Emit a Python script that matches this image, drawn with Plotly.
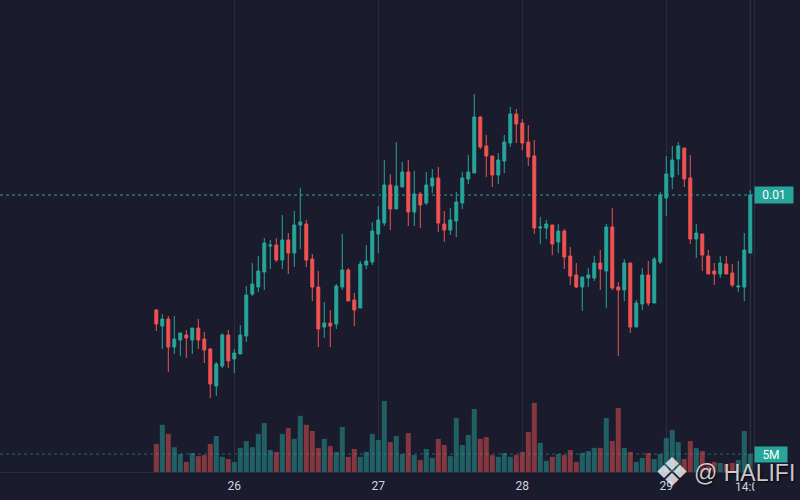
import pandas as pd
import plotly.graph_objects as go

# hourly candles, 25th 11:00 -> 29th 14:00
times = pd.date_range("2024-03-25 11:00", periods=100, freq="h")

open_ = [0.00885, 0.00869, 0.00876, 0.00848, 0.00855, 0.00860, 0.00855, 0.00867, 0.00856, 0.00846,
         0.00809, 0.00829, 0.00860, 0.00836, 0.00841, 0.00859, 0.00901, 0.00908, 0.00923, 0.00949,
         0.00950, 0.00935, 0.00955, 0.00942, 0.00970, 0.00971, 0.00936, 0.00908, 0.00868, 0.00872,
         0.00871, 0.00908, 0.00925, 0.00895, 0.00887, 0.00930, 0.00933, 0.00961, 0.00972, 0.01010,
         0.00986, 0.01008, 0.01023, 0.00983, 0.01001, 0.00992, 0.01009, 0.01017, 0.00971, 0.00965,
         0.00974, 0.00992, 0.01016, 0.01022, 0.01078, 0.01049, 0.01039, 0.01020, 0.01034, 0.01052,
         0.01081, 0.01072, 0.01053, 0.01039, 0.00967, 0.00967, 0.00970, 0.00953, 0.00964, 0.00939,
         0.00920, 0.00908, 0.00917, 0.00917, 0.00932, 0.00924, 0.00968, 0.00908, 0.00905, 0.00932,
         0.00868, 0.00891, 0.00920, 0.00892, 0.00933, 0.00997, 0.01018, 0.01036, 0.01047, 0.01017,
         0.00956, 0.00961, 0.00939, 0.00924, 0.00921, 0.00931, 0.00922, 0.00908, 0.00908, 0.00942]

high = [0.00886, 0.00881, 0.00879, 0.00879, 0.00862, 0.00865, 0.00867, 0.00876, 0.00863, 0.00847,
        0.00833, 0.00862, 0.00865, 0.00846, 0.00870, 0.00909, 0.00932, 0.00939, 0.00957, 0.00955,
        0.00957, 0.00980, 0.00962, 0.00984, 0.01007, 0.00975, 0.00941, 0.00924, 0.00893, 0.00885,
        0.00911, 0.00961, 0.00927, 0.00902, 0.00934, 0.00950, 0.00973, 0.00989, 0.01035, 0.01021,
        0.01053, 0.01033, 0.01035, 0.01024, 0.01003, 0.01023, 0.01026, 0.01028, 0.00984, 0.00987,
        0.01003, 0.01023, 0.01040, 0.01101, 0.01079, 0.01060, 0.01039, 0.01042, 0.01060, 0.01088,
        0.01086, 0.01076, 0.01070, 0.01055, 0.00978, 0.00975, 0.00970, 0.00971, 0.00966, 0.00948,
        0.00932, 0.00918, 0.00927, 0.00939, 0.00945, 0.00971, 0.00987, 0.00913, 0.00936, 0.00932,
        0.00895, 0.00927, 0.00934, 0.00938, 0.01003, 0.01039, 0.01049, 0.01053, 0.01047, 0.01040,
        0.00971, 0.00961, 0.00945, 0.00932, 0.00939, 0.00939, 0.00931, 0.00934, 0.00962, 0.01005]

low = [0.00864, 0.00846, 0.00823, 0.00841, 0.00839, 0.00837, 0.00841, 0.00846, 0.00832, 0.00797,
       0.00799, 0.00827, 0.00827, 0.00822, 0.00841, 0.00853, 0.00899, 0.00903, 0.00905, 0.00926,
       0.00933, 0.00926, 0.00921, 0.00928, 0.00946, 0.00928, 0.00894, 0.00848, 0.00857, 0.00848,
       0.00866, 0.00905, 0.00894, 0.00869, 0.00887, 0.00926, 0.00930, 0.00942, 0.00969, 0.00965,
       0.00986, 0.01008, 0.00969, 0.00969, 0.00967, 0.00990, 0.01002, 0.00963, 0.00953, 0.00960,
       0.00958, 0.00986, 0.01011, 0.01022, 0.01046, 0.01018, 0.01008, 0.01011, 0.01022, 0.01048,
       0.01052, 0.01045, 0.01029, 0.00961, 0.00951, 0.00956, 0.00940, 0.00942, 0.00926, 0.00910,
       0.00907, 0.00884, 0.00908, 0.00914, 0.00905, 0.00887, 0.00905, 0.00839, 0.00894, 0.00862,
       0.00868, 0.00885, 0.00889, 0.00892, 0.00931, 0.00979, 0.01006, 0.01020, 0.01008, 0.00951,
       0.00937, 0.00924, 0.00921, 0.00910, 0.00917, 0.00921, 0.00908, 0.00903, 0.00894, 0.00942]

close = [0.00871, 0.00876, 0.00848, 0.00856, 0.00862, 0.00857, 0.00867, 0.00855, 0.00845, 0.00811,
         0.00831, 0.00860, 0.00834, 0.00842, 0.00860, 0.00900, 0.00911, 0.00924, 0.00952, 0.00950,
         0.00935, 0.00955, 0.00942, 0.00970, 0.00973, 0.00935, 0.00908, 0.00866, 0.00872, 0.00869,
         0.00909, 0.00925, 0.00894, 0.00885, 0.00931, 0.00934, 0.00964, 0.00975, 0.01010, 0.00986,
         0.01009, 0.01023, 0.00983, 0.01001, 0.00990, 0.01010, 0.01017, 0.00972, 0.00965, 0.00975,
         0.00993, 0.01017, 0.01023, 0.01078, 0.01048, 0.01039, 0.01020, 0.01035, 0.01053, 0.01081,
         0.01071, 0.01052, 0.01038, 0.00967, 0.00968, 0.00971, 0.00951, 0.00964, 0.00938, 0.00919,
         0.00908, 0.00918, 0.00920, 0.00932, 0.00926, 0.00968, 0.00907, 0.00905, 0.00932, 0.00868,
         0.00892, 0.00920, 0.00892, 0.00936, 0.01000, 0.01021, 0.01035, 0.01049, 0.01016, 0.00956,
         0.00962, 0.00940, 0.00921, 0.00921, 0.00932, 0.00921, 0.00910, 0.00909, 0.00945, 0.01000]

# volume in millions
volume = [7.8, 13.1, 10.6, 6.9, 5.0, 2.8, 5.3, 4.4, 4.7, 7.8,
          10.0, 4.2, 3.6, 2.8, 6.7, 8.6, 6.9, 10.6, 13.6, 6.1,
          5.6, 10.6, 12.2, 9.2, 15.6, 13.1, 11.4, 6.7, 9.2, 7.2,
          5.6, 12.5, 4.2, 6.4, 4.2, 5.6, 10.6, 8.9, 19.7, 8.3,
          10.0, 5.0, 10.8, 4.7, 3.3, 6.4, 3.9, 9.2, 7.5, 4.4,
          15.0, 7.5, 10.3, 17.5, 9.2, 9.7, 4.7, 4.2, 5.3, 4.2,
          4.7, 5.6, 11.1, 19.2, 8.1, 3.1, 4.2, 5.0, 4.7, 6.1,
          2.8, 5.3, 5.8, 6.7, 6.7, 15.0, 8.6, 17.8, 6.7, 5.6,
          2.8, 3.9, 5.3, 3.6, 5.0, 9.4, 11.7, 8.3, 3.6, 8.6,
          6.7, 5.8, 2.5, 2.8, 2.5, 2.2, 2.5, 3.3, 11.4, 5.0]

day_ticks = ["2024-03-26", "2024-03-27", "2024-03-28", "2024-03-29"]
day_labels = ["26", "27", "28", "29"]

bg = "#1b1b2e"
up = "#26a69a"
down = "#ef5350"
grid = "#2a2b3d"

df = pd.DataFrame({"time": times, "open": open_, "high": high, "low": low,
                   "close": close, "volume": volume})
vol_colors = ["rgba(38,166,154,0.5)" if c >= o else "rgba(239,83,80,0.5)"
              for o, c in zip(df.open, df.close)]

fig = go.Figure()
fig.add_trace(go.Bar(x=df.time, y=df.volume, yaxis="y2", marker_color=vol_colors,
                     marker_line_width=0, width=50 * 60 * 1000, hoverinfo="skip"))
fig.add_trace(go.Candlestick(x=df.time, open=df.open, high=df.high, low=df.low, close=df.close,
                             increasing=dict(line=dict(color=up, width=1), fillcolor=up),
                             decreasing=dict(line=dict(color=down, width=1), fillcolor=down),
                             whiskerwidth=0))

last_t = df.time.iloc[-1]
last_close = df.close.iloc[-1]
last_vol = df.volume.iloc[-1]
x0 = df.time.iloc[0] - pd.Timedelta(hours=26.05)
x1 = df.time.iloc[0] + pd.Timedelta(hours=99.62)

fig.add_shape(type="line", xref="x", yref="paper", x0=last_t, x1=last_t, y0=0, y1=1,
              line=dict(color="#343648", width=1), layer="below")
fig.add_shape(type="line", xref="paper", yref="y", x0=0, x1=1, y0=last_close, y1=last_close,
              line=dict(color=up, width=1, dash="3px,3px"), layer="below")
fig.add_shape(type="line", xref="paper", yref="y2", x0=0, x1=1, y0=last_vol, y1=last_vol,
              line=dict(color="rgba(38,166,154,0.55)", width=1, dash="3px,3px"), layer="below")

fig.add_annotation(xref="paper", yref="y", x=1, y=last_close, xanchor="left", yanchor="middle",
                   text="0.01", showarrow=False, bgcolor=up, width=38, height=16, borderpad=0,
                   font=dict(color="white", size=12, family="Roboto"))
fig.add_annotation(xref="paper", yref="y2", x=1, y=last_vol, xanchor="left", yanchor="middle",
                   text="5M", showarrow=False, bgcolor=up, width=32, height=15, borderpad=0,
                   font=dict(color="white", size=12, family="Roboto"))
fig.add_annotation(xref="x", yref="paper", x=last_t, y=-0.031, xanchor="center", yanchor="middle",
                   text="14:00", showarrow=False, font=dict(color="#d1d4dc", size=12, family="Roboto"))
# price scale strip hides the end of the time label
fig.add_annotation(xref="paper", yref="paper", x=1, y=0, xanchor="left", yanchor="top",
                   text=" ", showarrow=False, bgcolor=bg, width=46, height=27, borderpad=0)
# watermark
fig.add_annotation(xref="paper", yref="paper", x=0.891, y=0.0, xanchor="center", yanchor="middle",
                   text="❖", showarrow=False,
                   font=dict(color="rgba(235,235,240,0.85)", size=40, family="DejaVu Sans"))
fig.add_annotation(xref="paper", yref="paper", x=0.918, y=-0.002, xanchor="left", yanchor="middle",
                   text="@ HALIFI", showarrow=False,
                   font=dict(color="rgba(235,235,240,0.85)", size=23, family="Liberation Sans",
                             shadow="1px 1px 2px #000"))

fig.update_layout(
    width=800, height=500,
    margin=dict(l=0, r=46, t=0, b=28),
    paper_bgcolor=bg, plot_bgcolor=bg,
    showlegend=False,
    font=dict(family="Roboto", color="#d1d4dc", size=12),
    xaxis=dict(range=[x0, x1], rangeslider=dict(visible=False), tickvals=day_ticks,
               ticktext=day_labels, showgrid=True, gridcolor=grid, gridwidth=1,
               zeroline=False, showline=True, linecolor=grid, ticks="", ticklabelstandoff=3,
               tickfont=dict(color="#d1d4dc", size=12, family="Roboto")),
    yaxis=dict(range=[0.00723, 0.01195], side="right", showgrid=False, zeroline=False,
               showticklabels=False, showline=True, linecolor=grid, ticks=""),
    yaxis2=dict(range=[0, 131.1], overlaying="y", side="right", showgrid=False,
                zeroline=False, showticklabels=False, ticks=""),
)

# drop the page's default body margin so the chart sits at the window edge
fig.write_html("out.html", config={"displayModeBar": False},
               post_script="document.body.style.margin='0';"
                           "document.body.style.background='%s';" % bg)
